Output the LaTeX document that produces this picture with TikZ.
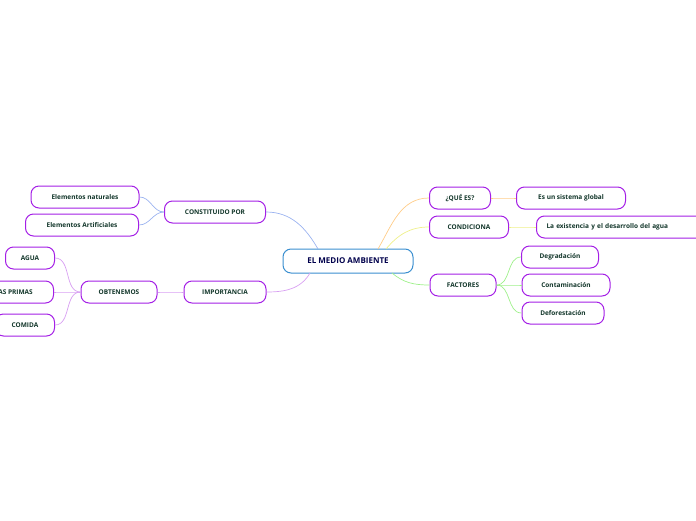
\documentclass[tikz,border=0pt]{standalone}
\usepackage{fontspec}
\setmainfont{Open Sans}
\definecolor{cbord}{HTML}{A41FE6}
\definecolor{ctext}{HTML}{12362A}
\definecolor{cmain}{HTML}{3B8FD0}
\definecolor{cblue}{HTML}{9BB3F0}
\definecolor{cpurp}{HTML}{D8A0F2}
\definecolor{corange}{HTML}{FFCC88}
\definecolor{cyell}{HTML}{EEF08A}
\definecolor{cgreen}{HTML}{9EF08A}
\begin{document}
\begin{tikzpicture}[x=1pt,y=-1pt,
  box/.style={draw=cbord, line width=1pt, rounded corners=8pt, minimum height=22pt, text=ctext, font=\fontsize{6.5}{8}\selectfont\bfseries, inner xsep=8pt, fill=white},
  main/.style={box, draw=cmain, minimum height=24pt, font=\fontsize{8}{10}\selectfont\bfseries, text=blue!30!black},
  link/.style={line width=0.7pt, out=0, in=180}]
\useasboundingbox (0,0) rectangle (696,520);
\clip (0,0) rectangle (696,520);
\node[main, minimum width=130pt] (c) at (348,261) {EL MEDIO AMBIENTE};
\node[box, minimum width=61pt] (q) at (460,198) {¿QUÉ ES?};
\node[box, minimum width=109pt] (q1) at (571,198) {Es un sistema global};
\node[box, minimum width=79pt] (k) at (469,227) {CONDICIONA};
\node[box, minimum width=170pt, anchor=west, text width=150pt, inner xsep=10pt, align=left] (k1) at (536,227) {La existencia y el desarrollo del agua};
\node[box, minimum width=66pt] (f) at (463,285) {FACTORES};
\node[box, minimum width=77pt] (f1) at (560,257) {Degradación};
\node[box, minimum width=88pt] (f2) at (566,285) {Contaminación};
\node[box, minimum width=82pt] (f3) at (563,313) {Deforestación};
\node[box, minimum width=101pt] (p) at (215,212) {CONSTITUIDO POR};
\node[box, minimum width=108pt] (p1) at (85,197) {Elementos naturales};
\node[box, minimum width=113pt] (p2) at (82,225) {Elementos Artificiales};
\node[box, minimum width=82pt] (i) at (225,292) {IMPORTANCIA};
\node[box, minimum width=49pt] (o1) at (30,258) {AGUA};
\node[box, minimum width=100pt, anchor=east, align=right] (o2) at (54,292) {MATERIAS PRIMAS};
\node[box, minimum width=59pt] (o3) at (25,325) {COMIDA};
\node[box, minimum width=76pt] (o) at (119,292) {OBTENEMOS};
\coordinate (cb) at (318,249);
\coordinate (cp) at (310,273);
\coordinate (co) at (378,249);
\coordinate (cy) at (386,249);
\coordinate (cg) at (392,273);
\draw[cblue,line width=0.7pt] (cb) to[out=120,in=0] (p.east);
\draw[cpurp,line width=0.7pt] (cp) to[out=-120,in=0] (i.east);
\draw[corange,line width=0.7pt] (co) to[out=60,in=180] (q.west);
\draw[cyell,line width=0.7pt] (cy) to[out=50,in=180] (k.west);
\draw[cgreen,line width=0.7pt] (cg) to[out=-40,in=180] (f.west);
\draw[corange,link] (q.east) to (q1.west);
\draw[cyell,link] (k.east) to (k1.west);
\foreach \n in {f1,f2,f3} \draw[cgreen,link] (f.east) to (\n.west);
\foreach \n in {p1,p2} \draw[cblue,link,out=180,in=0] (p.west) to (\n.east);
\draw[cpurp,link,out=180,in=0] (i.west) to (o.east);
\foreach \n in {o1,o2,o3} \draw[cpurp,link,out=180,in=0] (o.west) to (\n.east);
\end{tikzpicture}
\end{document}
